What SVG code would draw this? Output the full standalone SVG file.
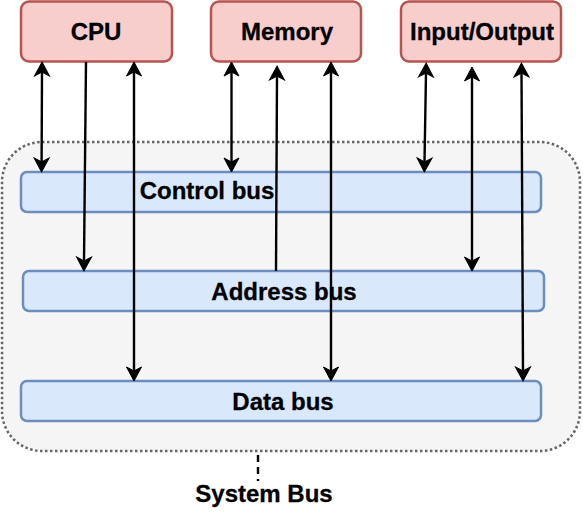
<svg xmlns="http://www.w3.org/2000/svg" width="583" height="525" viewBox="0 0 583 525">
<defs>
<marker id="arr" markerUnits="userSpaceOnUse" viewBox="-1 -9 18 18" refX="4" refY="0" markerWidth="18" markerHeight="18" orient="auto-start-reverse">
<path d="M0,-7.5 L14,0 L0,7.5 L4,0 Z" fill="#000" stroke="#000" stroke-width="1"/>
</marker>
</defs>
<style>
.unit{fill:#f8cecc;stroke:#b85450;stroke-width:2.5}
.bus{fill:#dae8fc;stroke:#6c8ebf;stroke-width:2.5}
.lbl{font-family:"Liberation Sans",Arial,Helvetica,sans-serif;font-weight:bold;font-size:24px;fill:#000;text-anchor:middle;stroke:#000;stroke-width:0.3}
.c{fill:none;stroke:#000;stroke-width:2.4}
</style>
<rect width="583" height="525" fill="#fff"/>
<g id="system-bus">
<rect x="2" y="142" width="578" height="309" rx="40" ry="40" fill="#f5f5f5" stroke="#666" stroke-width="2.5" stroke-dasharray="2.5 2.5"/>
<line x1="258" y1="455" x2="258" y2="481" stroke="#000" stroke-width="2.4" stroke-dasharray="7 5"/>
<text class="lbl" x="264" y="502">System Bus</text>
</g>
<g id="cpu">
<rect class="unit" x="21" y="1.5" width="151" height="60" rx="8"/>
<text class="lbl" x="96" y="40">CPU</text>
</g>
<g id="memory">
<rect class="unit" x="211" y="1.5" width="150" height="60" rx="8"/>
<text class="lbl" x="287" y="40">Memory</text>
</g>
<g id="io">
<rect class="unit" x="401" y="1.5" width="160" height="60" rx="8"/>
<text class="lbl" x="482" y="40">Input/Output</text>
</g>
<g id="control-bus">
<rect class="bus" x="21" y="172" width="520" height="40" rx="6"/>
<text class="lbl" x="207" y="199">Control bus</text>
</g>
<g id="address-bus">
<rect class="bus" x="23" y="271" width="521" height="40" rx="6"/>
<text class="lbl" x="284" y="300">Address bus</text>
</g>
<g id="data-bus">
<rect class="bus" x="21" y="381" width="520" height="40" rx="6"/>
<text class="lbl" x="283" y="410">Data bus</text>
</g>
<g id="connectors">
<line class="c" x1="42" y1="72" x2="41.6" y2="162" marker-start="url(#arr)" marker-end="url(#arr)"/>
<line class="c" x1="86" y1="62" x2="84" y2="261" marker-end="url(#arr)"/>
<line class="c" x1="134" y1="72" x2="134" y2="371" marker-start="url(#arr)" marker-end="url(#arr)"/>
<line class="c" x1="231.5" y1="72" x2="231.5" y2="162" marker-start="url(#arr)" marker-end="url(#arr)"/>
<line class="c" x1="276" y1="271" x2="277" y2="76" marker-end="url(#arr)"/>
<line class="c" x1="331" y1="72" x2="331" y2="371" marker-start="url(#arr)" marker-end="url(#arr)"/>
<line class="c" x1="426" y1="73" x2="424.5" y2="162" marker-start="url(#arr)" marker-end="url(#arr)"/>
<line class="c" x1="472" y1="77" x2="472" y2="261" marker-start="url(#arr)" marker-end="url(#arr)"/>
<line class="c" x1="521.5" y1="73" x2="523" y2="371" marker-start="url(#arr)" marker-end="url(#arr)"/>
</g>
</svg>
